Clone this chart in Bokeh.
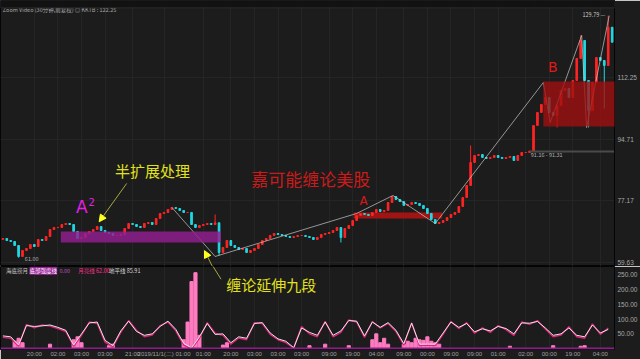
from bokeh.plotting import figure
from bokeh.models import (Range1d, FixedTicker, NumeralTickFormatter, BoxAnnotation,
                          Label, Arrow, NormalHead, Span, ColumnDataSource)
from bokeh.layouts import column
from bokeh.embed import file_html
from bokeh.resources import INLINE
from bokeh.core.properties import value

# ---------------- data ----------------
close = [66.45, 65.88, 65.60, 64.46, 61.34, 63.04, 63.61, 64.75, 64.18, 66.17,
         65.88, 67.02, 69.01, 69.58, 69.58, 70.43, 70.72, 70.43, 68.44, 66.45,
         66.74, 67.87, 68.44, 69.01, 69.86, 68.73, 68.16, 67.87, 67.31, 67.31,
         67.59, 69.30, 70.72, 70.43, 69.86, 69.58, 70.72, 71.00, 70.43, 72.14,
         73.56, 73.85, 74.70, 75.27, 74.98, 74.41, 73.85, 73.85, 70.43, 69.58,
         70.15, 70.43, 70.72, 70.43, 70.90, 62.47, 63.89, 65.88, 64.46, 63.89,
         63.33, 63.61, 62.47, 63.04, 63.61, 64.75, 65.88, 66.45, 67.31, 67.87,
         67.59, 67.31, 67.02, 66.74, 67.02, 67.31, 67.31, 67.02, 66.74, 66.17,
         66.74, 67.59, 67.87, 68.16, 68.73, 69.58, 66.74, 69.30, 70.15, 71.57,
         72.99, 73.56, 73.28, 72.99, 73.85, 74.70, 74.13, 74.41, 76.69, 78.39,
         77.54, 76.97, 75.84, 76.12, 76.69, 76.40, 75.84, 74.98, 73.56, 71.85,
         70.72, 71.00, 71.57, 72.42, 73.28, 73.85, 75.55, 78.11, 81.52, 88.06,
         90.05, 90.33, 89.48, 89.20, 89.48, 90.05, 89.48, 89.20, 89.48, 89.77,
         88.63, 90.05, 90.90, 90.90, 91.31, 98.58, 102.28, 104.55, 106.54, 102.28,
         101.42, 104.27, 108.53, 109.10, 106.54, 111.37, 117.63, 122.74, 111.37, 102.84,
         110.80, 117.91, 117.06, 115.64, 126.50, 122.25]
first_open = 66.20
wick_high = {54: 73.28, 119: 92.90, 147: 124.20, 154: 129.79}
wick_low = {4: 61.00, 55: 61.60, 86: 65.32, 119: 85.80, 141: 98.01, 149: 98.01, 153: 103.40}

price_ticks = [59.63, 77.17, 94.71, 112.25]

# zigzag ("bi") line vertices: bar index / price
zz_idx = [43, 54, 90, 99.25, 110, 137.5, 139.25, 147.25, 148.5, 154.25]
zz_price = [75.27, 61.34, 73.56, 78.68, 70.72, 110.80, 99.40, 124.20, 98.00, 129.79]

# zones
zoneA2 = dict(left=14.75, right=55.5, bottom=65.32, top=68.44)
zoneA = dict(left=89.25, right=111.75, bottom=72.14, top=73.85)
zoneB = dict(left=137.5, right=156.5, bottom=98.30, top=111.09)
gap_level = 91.20
gap_start = 134

# indicator (one value every 2 bars)
ind_white = [43, 40, 12, 78, 75, 77, 80, 72, 62, 12, 50, 87, 90, 28, 10, 60, 93, 58, 45, 50,
             75, 93, 65, 18, 2, 40, 85, 48, 50, 20, 40, 35, 85, 88, 53, 33, 25, 3, 70, 55,
             45, 90, 45, 60, 95, 93, 43, 90, 72, 88, 62, 17, 86, 15, 15, 15, 53, 90, 72, 85,
             57, 67, 60, 75, 68, 50, 87, 86, 92, 70, 45, 50, 70, 45, 40, 80, 53, 65]
ind_pink = [38, 35, 8, 82, 70, 80, 76, 68, 58, 8, 45, 90, 85, 22, 6, 55, 95, 62, 40, 46,
            78, 90, 60, 12, 0, 35, 88, 52, 45, 15, 36, 30, 88, 85, 48, 30, 20, 2, 75, 50,
            40, 92, 40, 55, 97, 90, 38, 92, 70, 85, 58, 12, 88, 10, 12, 10, 48, 92, 68, 88,
            52, 70, 55, 78, 64, 45, 90, 82, 95, 66, 40, 46, 74, 40, 35, 84, 48, 70]
hist_idx = [3, 4, 5, 12, 18, 19, 20, 27, 28, 46, 47, 48, 49, 50, 56, 57, 78, 82, 88,
            94, 95, 96, 97, 98, 102, 103, 104, 105, 106, 107, 108, 109, 110, 111, 129, 140, 147, 148]
hist_val = [25, 35, 20, 15, 30, 40, 20, 10, 15, 30, 90, 227, 257, 45, 12, 20, 10, 15, 10,
            30, 50, 20, 35, 15, 15, 25, 20, 35, 30, 28, 40, 25, 20, 15, 8, 10, 8, 10]
ind_ticks = [50, 100, 150, 200, 250]

x_ticks = [8, 14, 20, 26, 33, 41, 51, 58, 64, 70, 76, 83, 89, 95, 102, 108, 114, 120,
           126, 133, 139, 145, 152]
x_labels = ["20:00", "02:00", "03:00", "03:00", "21:00", "2019/11/1(二) 01:00", "01:00",
            "20:00", "03:00", "03:00", "03:00", "09:00", "19:00", "04:00", "09:00", "00:00",
            "09:00", "09:00", "01:00", "02:00", "00:00", "19:00", "04:00"]

# ---------------- build candles ----------------
idx = list(range(len(close)))
open_ = [first_open] + close[:-1]
high = [max(o, c, wick_high.get(i, 0)) for i, (o, c) in enumerate(zip(open_, close))]
low = [min(o, c, wick_low.get(i, 1e9)) for i, (o, c) in enumerate(zip(open_, close))]
UP, DOWN = "#ff2424", "#1fd9e3"
col = [UP if c >= o else DOWN for o, c in zip(open_, close)]
src = ColumnDataSource(dict(x=idx, o=open_, c=close, h=high, l=low,
                            top=[max(o, c) for o, c in zip(open_, close)],
                            bot=[min(o, c) for o, c in zip(open_, close)], col=col))

BG = "#1c1c1c"
CJK = "Noto Sans CJK SC"
xr = Range1d(-0.6, 155.6)


def style_yaxis(a, ticks):
    a.ticker = FixedTicker(ticks=ticks)
    a.formatter = NumeralTickFormatter(format="0.00")
    a.axis_line_color = "#050505"
    a.major_tick_line_color = None
    a.minor_tick_line_color = None
    a.major_tick_out = 0
    a.minor_tick_out = 0
    a.major_label_text_color = "#a8a8a8"
    a.major_label_text_font_size = "6.5px"
    a.major_label_standoff = 3


p = figure(width=640, height=266, x_range=xr, y_range=Range1d(58.49, 134.10),
           output_backend="svg", toolbar_location=None, y_axis_location="right",
           x_axis_location=None, background_fill_color=BG, border_fill_color=BG,
           min_border_left=0, min_border_top=0, min_border_bottom=0, min_border_right=0)
p.outline_line_color = "#050505"
p.xgrid.ticker = FixedTicker(ticks=x_ticks)
p.ygrid.ticker = FixedTicker(ticks=price_ticks)
p.xgrid.grid_line_color = "#252525"
p.ygrid.grid_line_color = "#252525"
style_yaxis(p.yaxis[0], price_ticks)

# header
p.add_layout(BoxAnnotation(bottom=132.0, fill_color="#121212", fill_alpha=1, line_color="#2c2c2c", line_alpha=1))
menu = ["□", "分时", "1分钟", "5分钟", "15分钟", "30分钟", "60分钟", "日线", "周线", "月线", "多周期", "更多 ▾"]
menu_x = [0.2, 2, 5.5, 9.3, 12.6, 17, 21.8, 26.3, 28.6, 30.8, 35.8, 39.6]
menu_c = ["#a0a0a0"] * len(menu)
menu_c[5] = "#19c8d0"
p.text(x=menu_x, y=[133.15] * len(menu), text=menu, text_color=menu_c, text_font=value(CJK),
       text_font_size="5px", text_baseline="middle")
rmenu = ["画线", "指标", "自选", "叠加", "统计", "F10", "F9", "设置"]
rmenu_x = [131.3, 134.8, 138.3, 141.8, 145.5, 149.3, 152.4, 155.0]
p.text(x=rmenu_x, y=[133.15] * len(rmenu), text=rmenu, text_color="#a0a0a0", text_font=value(CJK),
       text_font_size="5.5px", text_baseline="middle")
p.text(x=[0], y=[131.45], text=["Zoom Video (30分钟,前复权) ◎ KKTB : 122.25"], text_color="#a8a8a8",
       text_font=value(CJK), text_font_size="5.5px", text_baseline="middle")

# zone A bar (under candles)
p.add_layout(BoxAnnotation(**zoneA, fill_color="#a01414", fill_alpha=1, line_alpha=0, level="underlay"))

# candles
p.segment(x0="x", y0="l", x1="x", y1="h", color="col", line_width=1, source=src)
p.vbar(x="x", width=0.42, top="top", bottom="bot", fill_color="col", line_color="col", source=src)

# zones over candles
p.add_layout(BoxAnnotation(**zoneA2, fill_color="#921e92", fill_alpha=0.82, line_alpha=0))
p.add_layout(BoxAnnotation(**zoneB, fill_color="#a01010", fill_alpha=0.8, line_alpha=0))

# zigzag + gap line
p.line(zz_idx, zz_price, line_color="#cfcfcf", line_width=0.8, line_alpha=0.85)
p.segment(x0=[gap_start], y0=[gap_level], x1=[156], y1=[gap_level], line_color="#4a4a4a", line_width=2)

# value tags
p.text(x=[5.6], y=[60.77], text=["61.00"], text_color="#b0b0b0", text_font=value(CJK),
       text_font_size="5.5px", text_baseline="middle")
p.text(x=[153.3], y=[129.84], text=["129.79 —"], text_color="#c8c8c8", text_font=value(CJK),
       text_font_size="5.5px", text_baseline="middle", text_align="right")
p.text(x=[134.3], y=[90.05], text=["91.16 - 91.31"], text_color="#b0b0b0", text_font=value(CJK),
       text_font_size="5.5px", text_baseline="middle")

# annotations
p.text(x=[18.6], y=[75.4], text=["A"], text_color="#e61ee6", text_font=value("DejaVu Sans"),
       text_font_size="17px", text_baseline="middle")
p.text(x=[21.8], y=[76.8], text=["2"], text_color="#e61ee6", text_font=value("DejaVu Sans"),
       text_font_size="10px", text_baseline="middle")
p.text(x=[28.5], y=[85.78], text=["半扩展处理"], text_color="#e2e21a", text_font=value(CJK),
       text_font_size="15px", text_baseline="middle")
p.add_layout(Arrow(end=NormalHead(size=7, fill_color="#ffff20", line_color="#ffff20"),
                   x_start=31.5, y_start=82.1, x_end=24.5, y_end=71.2,
                   line_color="#a8a840", line_width=1))
p.text(x=[63.2], y=[83.5], text=["嘉可能缠论美股"], text_color="#cc1a1a", text_font=value(CJK),
       text_font_size="17px", text_baseline="middle")
p.text(x=[90.7], y=[77.0], text=["A"], text_color="#d81818", text_font=value("DejaVu Sans"),
       text_font_size="12px", text_baseline="middle")
p.text(x=[138.7], y=[115.1], text=["B"], text_color="#e01818", text_font=value("DejaVu Sans"),
       text_font_size="14px", text_baseline="middle")
p.add_layout(Arrow(end=NormalHead(size=7, fill_color="#ffff20", line_color="#ffff20"),
                   x_start=53.4, y_start=58.3, x_end=51.3, y_end=63.0,
                   line_color="#a8a840", line_width=1))

# ---------------- indicator panel ----------------
q = figure(width=640, height=93, x_range=xr, y_range=Range1d(-3, 278),
           output_backend="svg", toolbar_location=None, y_axis_location="right",
           background_fill_color=BG, border_fill_color=BG,
           min_border_left=0, min_border_top=0, min_border_bottom=0, min_border_right=0)
q.outline_line_color = "#050505"
q.xgrid.ticker = FixedTicker(ticks=x_ticks)
q.xgrid.grid_line_color = "#252525"
q.ygrid.grid_line_color = None
style_yaxis(q.yaxis[0], ind_ticks)
xa = q.xaxis[0]
xa.ticker = FixedTicker(ticks=x_ticks)
xa.major_label_overrides = {t: l for t, l in zip(x_ticks, x_labels)}
xa.axis_line_color = "#050505"
xa.major_tick_line_color = None
xa.minor_tick_line_color = None
xa.major_tick_out = 0
xa.minor_tick_out = 0
xa.major_label_text_color = "#a0a0a0"
xa.major_label_text_font_size = "6px"
xa.major_label_standoff = 1

ind_x = [2 * i for i in range(len(ind_white))]
q.vbar(x=hist_idx, top=hist_val, bottom=0, width=0.8, fill_color="#ff7ac0", line_color="#ff7ac0")
q.add_layout(Span(location=0, dimension="width", line_color="#862286", line_width=2))
q.line(ind_x, ind_pink, line_color="#e0207a", line_width=1.4)
q.line(ind_x, ind_white, line_color="#e6e6e6", line_width=1)

q.add_layout(Label(x=0.8, y=264, text="海底捞月", text_color="#c8c8c8", text_font=CJK,
                   text_font_size="5.5px", text_baseline="middle"))
q.add_layout(Label(x=6.8, y=264, text="底部强度线", text_color="#ffffff", text_font=CJK,
                   text_font_size="5.5px", text_baseline="middle", background_fill_color="#9a1e9a"))
q.add_layout(Label(x=14.4, y=264, text="0.00", text_color="#c050c0", text_font=CJK,
                   text_font_size="5.5px", text_baseline="middle"))
q.add_layout(Label(x=19.2, y=264, text="月亮线 62.00", text_color="#ff3090", text_font=CJK,
                   text_font_size="5.5px", text_baseline="middle"))
q.add_layout(Label(x=27.0, y=264, text="地平线 85.91", text_color="#d8d8d8", text_font=CJK,
                   text_font_size="5.5px", text_baseline="middle"))

q.text(x=[56.8], y=[218], text=["缠论延伸九段"], text_color="#e2e21a", text_font=value(CJK),
       text_font_size="15px", text_baseline="middle")
q.segment(x0=[55.5], y0=[235], x1=[53.3], y1=[282], line_color="#a8a840", line_width=1)

layout = column(p, q, spacing=0)
open("out.html", "w").write(file_html(layout, INLINE))
